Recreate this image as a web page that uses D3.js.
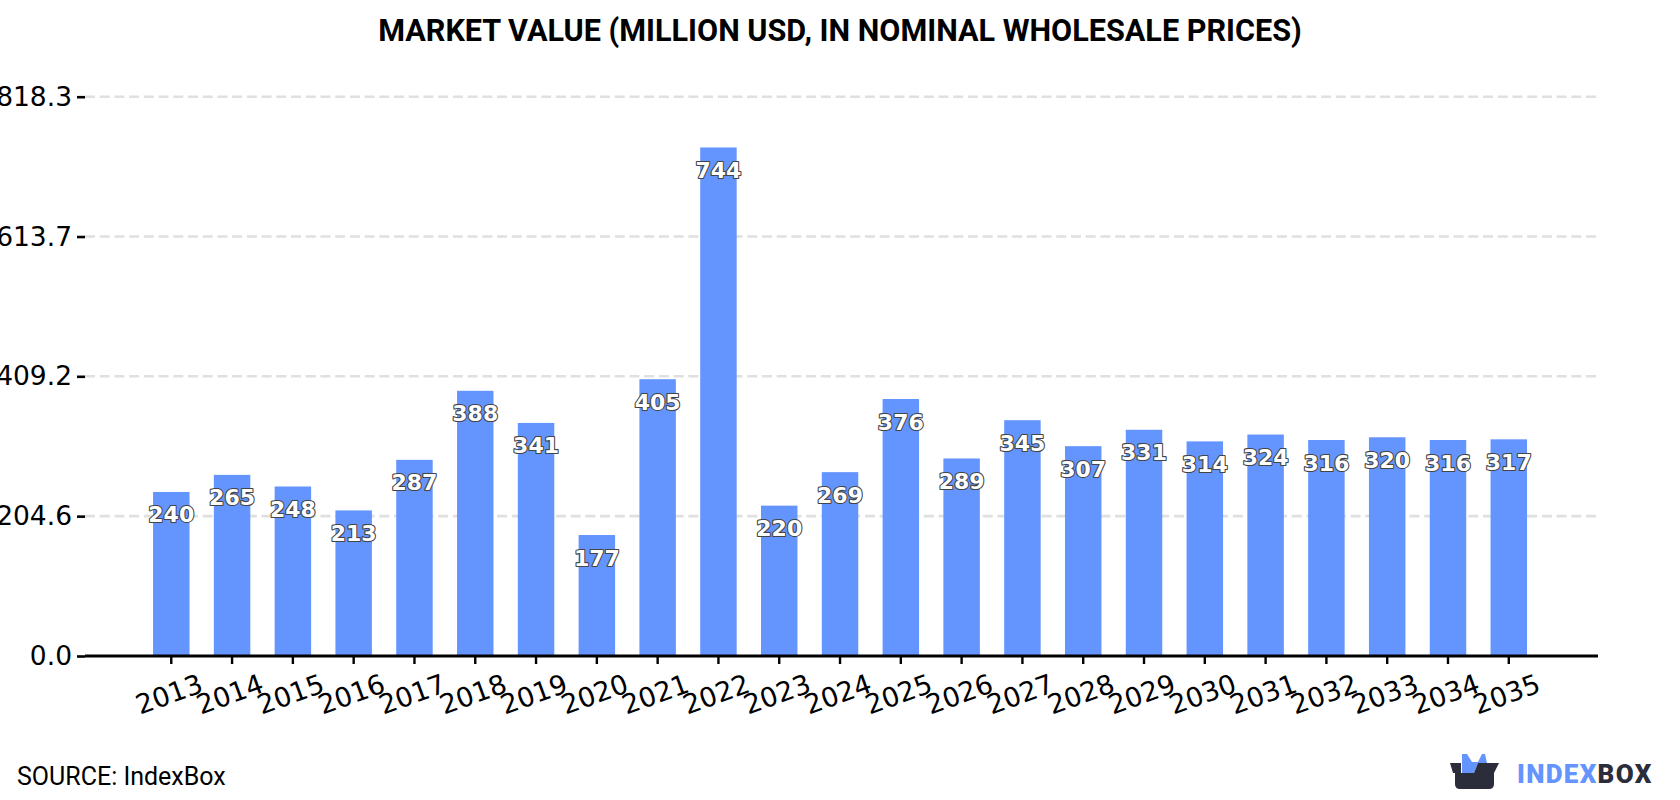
<!DOCTYPE html>
<html>
<head>
<meta charset="utf-8">
<style>
  html, body { margin: 0; padding: 0; background: #fff; overflow: hidden; }
  svg { display: block; }
</style>
<script src="https://cdn.jsdelivr.net/npm/d3@7"></script>
</head>
<body>
<div id="chart"></div>
<script>
const years = ["2013","2014","2015","2016","2017","2018","2019","2020","2021","2022","2023","2024","2025","2026","2027","2028","2029","2030","2031","2032","2033","2034","2035"];
const marketValue = [240,265,248,213,287,388,341,177,405,744,220,269,376,289,345,307,331,314,324,316,320,316,317];
const yTicks = [0, 204.6, 409.2, 613.7, 818.3];

const chartTitle = "MARKET VALUE (MILLION USD, IN NOMINAL WHOLESALE PRICES)";
const sourceText = "SOURCE: IndexBox";
const barColor = "#6495ff";
const logoDark = "#2b2d3a";
const sans = "'DejaVu Sans', sans-serif";

const width = 1680, height = 800;
const plot = { left: 85, right: 1597, top: 96.7, bottom: 656 };

const svg = d3.select("#chart").append("svg")
  .attr("width", width).attr("height", height)
  .attr("viewBox", [0, 0, width, height]);

const x = d3.scaleBand().domain(years)
  .range([plot.left, plot.right])
  .paddingInner(0.4).paddingOuter(1.135).align(0.493);

const y = d3.scaleLinear().domain([0, 818.3]).range([plot.bottom, plot.top]);

// Dashed horizontal grid behind the bars
svg.append("g").selectAll("line")
  .data(yTicks.filter(d => d > 0))
  .join("line")
  .attr("x1", plot.left).attr("x2", plot.right)
  .attr("y1", d => y(d)).attr("y2", d => y(d))
  .attr("stroke", "#e0e0e0").attr("stroke-width", 2.6)
  .attr("stroke-dasharray", "10 4.716");

// Bars
svg.append("g").selectAll("rect")
  .data(marketValue)
  .join("rect")
  .attr("x", (d, i) => x(years[i]))
  .attr("width", x.bandwidth())
  .attr("y", d => y(d))
  .attr("height", d => y(0) - y(d))
  .attr("fill", barColor);

// Value axis
const yAxis = svg.append("g")
  .attr("transform", `translate(${plot.left},0)`)
  .call(d3.axisLeft(y).tickValues(yTicks).tickFormat(d3.format(".1f")).tickSize(8).tickPadding(5));
yAxis.select(".domain").remove();
yAxis.selectAll(".tick line").attr("stroke", "#000").attr("stroke-width", 2.6);
yAxis.selectAll(".tick text")
  .attr("font-family", sans).attr("font-size", 26.5).attr("fill", "#000");

// Year axis with slanted labels
const xAxis = svg.append("g")
  .attr("transform", `translate(0,${plot.bottom})`)
  .call(d3.axisBottom(x).tickSize(8).tickPadding(0));
xAxis.select(".domain")
  .attr("d", `M${plot.left},0H${plot.right + 1}`)
  .attr("stroke", "#000").attr("stroke-width", 3);
xAxis.selectAll(".tick line").attr("stroke", "#000").attr("stroke-width", 2.4);
xAxis.selectAll(".tick text")
  .attr("font-family", sans).attr("font-size", 27).attr("fill", "#000")
  .attr("text-anchor", "middle")
  .attr("dy", null).attr("y", null)
  .attr("transform", "translate(1,47) rotate(-20)");

// Value labels sitting just under each bar top
svg.append("g").selectAll("text")
  .data(marketValue)
  .join("text")
  .attr("x", (d, i) => x(years[i]) + x.bandwidth() / 2)
  .attr("y", d => y(d) + 30.5)
  .attr("text-anchor", "middle")
  .attr("font-family", sans).attr("font-weight", 700).attr("font-size", 22)
  .attr("fill", "#fff").attr("stroke", "#444").attr("stroke-width", 2.2)
  .attr("paint-order", "stroke").attr("stroke-linejoin", "round")
  .text(d => d);

// Title and source line
svg.append("text")
  .attr("x", 840).attr("y", 41)
  .attr("text-anchor", "middle")
  .attr("font-family", "Roboto, sans-serif").attr("font-weight", 700).attr("font-size", 30.6)
  .attr("fill", "#000").text(chartTitle);

svg.append("text")
  .attr("x", 17).attr("y", 785)
  .attr("font-family", "Roboto, sans-serif").attr("font-size", 25)
  .attr("fill", "#000").text(sourceText);

// Brand mark: open box holding a blue crown
const logo = svg.append("g").attr("transform", "translate(1400,730)");
logo.append("path").attr("fill", barColor)
  .attr("d", "M62,24 L67,24 L72,32 L78,32 L82,24 L85,24 L87,33 L78,33 L74,43 L62,43 Z");
logo.append("path").attr("fill", logoDark)
  .attr("d", "M50,33 L61,33 L61,43 L74,43 L78,33 L99,33 L94,43 L94,54 Q94,59 89,59 L60,59 Q55,59 55,54 L55,43 L53,43 Z");
logo.append("text").attr("x", 117).attr("y", 52.5)
  .attr("font-family", "Roboto, sans-serif").attr("font-weight", 900).attr("font-size", 26)
  .attr("letter-spacing", 1.3)
  .attr("fill", barColor).text("INDEX")
  .append("tspan").attr("fill", logoDark).text("BOX");
</script>
</body>
</html>
